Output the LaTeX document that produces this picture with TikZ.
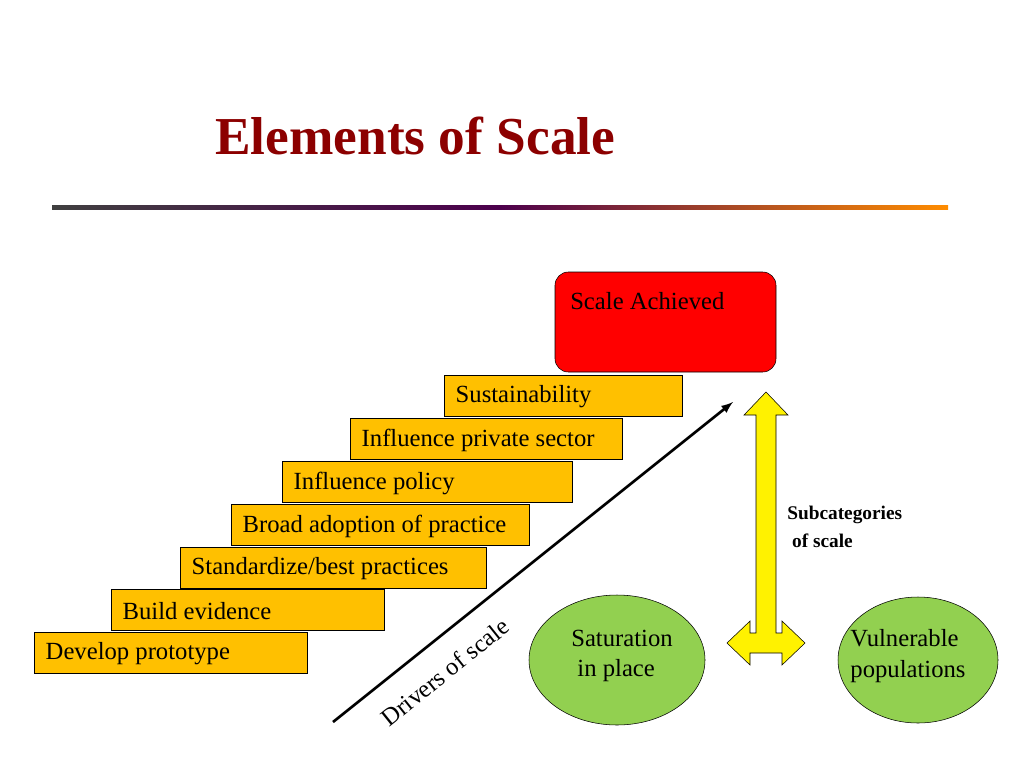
\documentclass[tikz,border=0pt]{standalone}
\usepackage{fontspec}
\setmainfont{Liberation Serif}
\begin{document}
\begin{tikzpicture}[x=0.75pt,y=-0.75pt,
  steptxt/.style={anchor=west,font=\fontsize{18.5}{20}\selectfont},
  big/.style={font=\fontsize{18.5}{23}\selectfont}]
\useasboundingbox (0,0) rectangle (1024,768);
\fill[white] (0,0) rectangle (1024,768);
\node[anchor=base west,inner sep=0pt,text=red!55!black,font=\bfseries\fontsize{40}{44}\selectfont] (title) at (215,154) {Elements of Scale};
\shade[left color=black!75,right color=violet!60!black] (52,205) rectangle (500,209);
\shade[left color=violet!60!black,right color=orange!90!yellow] (500,205) rectangle (948,209);
\definecolor{stepc}{HTML}{FFC000}
\foreach \n/\x/\y/\w/\t in {s1/444/375/238/{Sustainability},s2/350/418/272/{Influence private sector},s3/282/461/290/{Influence policy},s4/231/504/298/{Broad adoption of practice},s5/180/547/306/{Standardize/best practices},s6/111/589/273/{Build evidence},s7/34/632/273/{Develop prototype}}{
  \draw[fill=stepc] (\x,\y) rectangle ++(\w,41);
  \node[steptxt] (\n) at (\x+7,\y+22) {\t};
}
\draw[fill=red,rounded corners=10pt] (555,272) rectangle (776,372);
\node[anchor=base west,inner sep=0pt,big] (sa) at (570,309) {Scale Achieved};
\coordinate (da) at (333,722); \coordinate (db) at (733,402);
\draw[line width=2pt,-latex] (da) -- (db);
\node[rotate=38.7,big,inner sep=0pt] (drv) at (445,672) {Drivers of scale};
\draw[fill=yellow] (766,392)--(788,415)--(776,415)--(776,633)--(782,633)--(782,621)--(805,643)--(782,665)--(782,653)--(750,653)--(750,665)--(727,643)--(750,621)--(750,633)--(756,633)--(756,415)--(744,415)--cycle;
\definecolor{gr}{HTML}{92D050}
\draw[fill=gr] (617,660) ellipse (88 and 65);
\node[align=left,big] (sat) at (622,656) {Saturation\\\ in place};
\draw[fill=gr] (918,660) ellipse (80 and 63);
\node[align=left,big] (vul) at (908,656) {Vulnerable\\populations};
\node[align=left,anchor=north west,inner sep=0pt,font=\bfseries\fontsize{14.5}{21}\selectfont] (sub) at (787,506) {Subcategories\\\ of scale};
\end{tikzpicture}
\end{document}
